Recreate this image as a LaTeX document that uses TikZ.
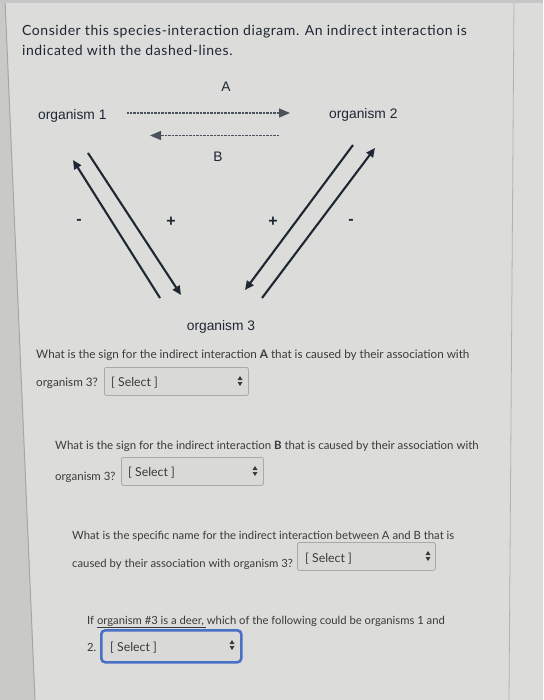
\documentclass[tikz,border=0pt]{standalone}
\usepackage{fontspec}
\setmainfont{Lato}
\newfontfamily\arialf{Liberation Sans}
\newfontfamily\latowide[LetterSpace=4]{Lato}
\usetikzlibrary{arrows.meta}
\definecolor{bgc}{HTML}{DCDCDA}
\definecolor{edgec}{HTML}{C9C9C7}
\definecolor{inkc}{HTML}{1E2733}
\definecolor{txtc}{HTML}{3A3A3A}
\definecolor{boxc}{HTML}{D9D9D7}
\definecolor{boxl}{HTML}{A9A9A7}
\definecolor{focusc}{HTML}{4A6FC6}
\tikzset{
  lab/.style={font=\arialf\fontsize{13.8}{15}\selectfont, text=inkc, inner sep=0pt},
  sgn/.style={font=\arialf\bfseries\fontsize{16}{18}\selectfont, text=inkc, inner sep=0pt},
  qtext/.style={font=\fontsize{11.7}{13}\selectfont, text=txtc, inner sep=0pt, anchor=base west},
  qtextb/.style={qtext, font=\fontsize{11.45}{13}\selectfont},
  qtextc/.style={qtext, font=\fontsize{11.3}{13}\selectfont},
  qtextd/.style={qtext, font=\fontsize{11.25}{13}\selectfont},
  ttext/.style={font=\latowide\fontsize{14}{16}\selectfont, text=inkc, inner sep=0pt, anchor=base west},
  solidarrow/.style={draw=inkc, line width=2.1pt, -{Triangle[length=9pt,width=8pt]}},
  dotarrow/.style={draw=inkc!80, line width=1.5pt, dash pattern=on 0.8pt off 0.6pt, -{Triangle[length=11pt,width=9pt]}},
  selbox/.style={draw=boxl, fill=boxc, rounded corners=2pt, line width=0.8pt, minimum height=28pt, anchor=north west, inner sep=0pt},
  seltxt/.style={font=\fontsize{12.3}{14}\selectfont, text=txtc, inner sep=0pt, anchor=base west},
}
\begin{document}
\begin{tikzpicture}[x=1pt,y=-1pt]
\useasboundingbox (0,0) rectangle (543,700);
\fill[bgc] (0,0) rectangle (543,700);
\fill[edgec] (0,0) -- (5,0) -- (35,700) -- (0,700) -- cycle;
\draw[gray!70, line width=1pt] (5,0) -- (35,700);
\draw[gray!60, line width=0.8pt] (514,0) -- (509,700);
\fill[gray!45] (0,0) rectangle (543,3);
% top text
\node[ttext] (t1) at (22,36) {Consider this species-interaction diagram. An indirect interaction is};
\node[ttext] (t2) at (22,56) {indicated with the dashed-lines.};
% diagram labels
\node[lab] (A) at (226,87) {A};
\node[lab, anchor=base west] (o1) at (38,120) {organism 1};
\node[lab, anchor=base west] (o2) at (329,119) {organism 2};
\node[lab] (B) at (218,157) {B};
\node[lab, anchor=base] (o3) at (221,330) {organism 3};
\node[sgn] (s1) at (79,222) {-};
\node[sgn] (s2) at (171,222) {+};
\node[sgn] (s3) at (273,222) {+};
\node[sgn] (s4) at (351,222) {-};
% connector endpoints
\coordinate (a1) at (127,113);
\coordinate (a2) at (290,113);
\coordinate (b1) at (279,135.5);
\coordinate (b2) at (150,135.5);
\coordinate (l1s) at (160,298);
\coordinate (l1e) at (73,160);
\coordinate (l2s) at (88,153);
\coordinate (l2e) at (181,295);
\coordinate (r1s) at (353,145);
\coordinate (r1e) at (245,290);
\coordinate (r2s) at (262,298);
\coordinate (r2e) at (375,148);
\draw[dotarrow] (a1) -- (a2);
\draw[dotarrow] (b1) -- (b2);
\draw[solidarrow] (l1s) -- (l1e);
\draw[solidarrow] (l2s) -- (l2e);
\draw[solidarrow] (r1s) -- (r1e);
\draw[solidarrow] (r2s) -- (r2e);
% question 1
\node[qtext] (q1a) at (36,358) {What is the sign for the indirect interaction \textbf{A} that is caused by their association with};
\node[qtext] (q1b) at (36,386) {organism 3?};
\node[selbox, minimum width=144pt] (box1) at (104,367) {};
\node[seltxt] (box1t) at (111,386) {[ Select ]};
% question 2
\node[qtextb] (q2a) at (55,449) {What is the sign for the indirect interaction \textbf{B} that is caused by their association with};
\node[qtextb] (q2b) at (55,480) {organism 3?};
\node[selbox, minimum width=142pt] (box2) at (121,457) {};
\node[seltxt] (box2t) at (128,476) {[ Select ]};
% question 3
\node[qtextc] (q3a) at (72,539) {What is the specific name for the indirect interaction between A and B that is};
\node[qtextc] (q3b) at (72,567) {caused by their association with organism 3?};
\node[selbox, minimum width=138pt] (box3) at (297,542) {};
\node[seltxt] (box3t) at (305,562) {[ Select ]};
% question 4
\node[qtextd] (q4a) at (87,624) {If organism \#3 is a deer, which of the following could be organisms 1 and};
\draw[txtc, line width=0.5pt] (97,627) -- (206,627);
\node[qtextd] (q4b) at (87,651) {2.};
\node[selbox, minimum width=140pt, minimum height=32pt, draw=focusc, line width=2.6pt, rounded corners=4pt] (box4) at (100,629) {};
\node[seltxt] (box4t) at (110,651) {[ Select ]};
% spinners
\foreach \bx/\by in {240/381, 255/471, 428/556, 232/645} {
  \fill[txtc] (\bx-2.5,\by-1) -- (\bx+2.5,\by-1) -- (\bx,\by-5) -- cycle;
  \fill[txtc] (\bx-2.5,\by+1) -- (\bx+2.5,\by+1) -- (\bx,\by+5) -- cycle;
}
\end{tikzpicture}
\end{document}
